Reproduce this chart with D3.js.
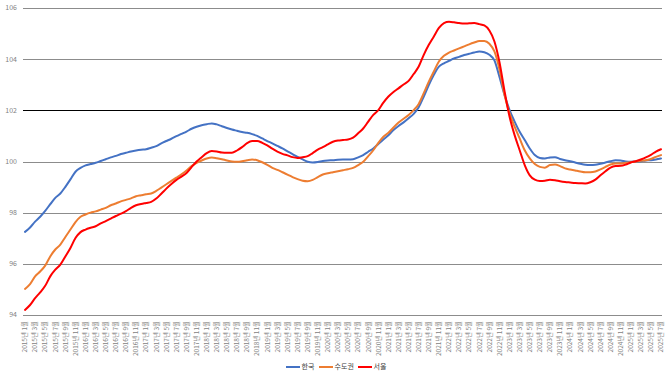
<!DOCTYPE html>
<html><head><meta charset="utf-8">
<script src="https://cdn.jsdelivr.net/npm/d3@7"></script>
<style>
html,body{margin:0;padding:0;background:#fff;}
text{font-family:"Noto Sans CJK KR","Noto Sans",sans-serif;}
</style></head>
<body><svg id="c" width="670" height="377"></svg>
<script>
const seriesNames = ["한국","수도권","서울"];
const seriesColors = ["#4472C4","#ED7D31","#FF0000"];
const yTicks = [94,96,98,100,102,104,106];

const korea = [97.25,97.42,97.65,97.84,98.07,98.33,98.58,98.75,99.01,99.30,99.60,99.75,99.85,99.90,99.95,100.02,100.09,100.16,100.22,100.29,100.34,100.39,100.43,100.46,100.48,100.54,100.60,100.71,100.80,100.89,100.99,101.08,101.17,101.28,101.36,101.42,101.46,101.49,101.45,101.38,101.31,101.25,101.20,101.15,101.12,101.07,101.00,100.90,100.80,100.71,100.61,100.51,100.40,100.29,100.18,100.08,99.99,99.96,99.98,100.02,100.04,100.05,100.07,100.08,100.08,100.09,100.16,100.25,100.38,100.51,100.68,100.86,101.03,101.23,101.39,101.53,101.69,101.86,102.12,102.54,102.99,103.39,103.71,103.84,103.93,104.03,104.09,104.16,104.21,104.26,104.30,104.27,104.17,103.95,103.30,102.60,102.01,101.56,101.16,100.84,100.51,100.25,100.14,100.12,100.16,100.17,100.10,100.05,100.01,99.96,99.91,99.87,99.86,99.87,99.91,99.96,100.01,100.05,100.04,100.00,99.99,100.00,100.01,100.04,100.05,100.08,100.12];
const capital = [95.02,95.21,95.51,95.70,95.93,96.29,96.56,96.75,97.05,97.34,97.63,97.84,97.93,98.00,98.05,98.12,98.19,98.29,98.36,98.44,98.50,98.56,98.64,98.68,98.72,98.75,98.85,98.98,99.11,99.24,99.37,99.50,99.65,99.82,99.95,100.04,100.12,100.16,100.13,100.09,100.04,100.00,99.99,100.01,100.05,100.08,100.05,99.97,99.87,99.75,99.67,99.58,99.49,99.39,99.31,99.25,99.23,99.28,99.39,99.49,99.54,99.58,99.62,99.66,99.70,99.75,99.86,99.99,100.21,100.44,100.73,100.97,101.12,101.33,101.52,101.67,101.82,102.01,102.25,102.67,103.12,103.52,103.91,104.13,104.26,104.34,104.42,104.50,104.58,104.65,104.71,104.71,104.60,104.30,103.60,102.60,101.88,101.36,100.90,100.44,100.12,99.90,99.79,99.76,99.86,99.88,99.82,99.73,99.69,99.65,99.61,99.58,99.58,99.61,99.69,99.79,99.88,99.92,99.92,99.95,99.97,100.00,100.03,100.05,100.10,100.18,100.25];
const seoul = [94.20,94.39,94.66,94.88,95.14,95.51,95.77,95.97,96.29,96.62,97.01,97.24,97.34,97.41,97.47,97.58,97.67,97.77,97.87,97.96,98.06,98.19,98.29,98.34,98.38,98.42,98.55,98.74,98.94,99.12,99.28,99.41,99.55,99.78,100.00,100.17,100.33,100.41,100.39,100.35,100.34,100.34,100.43,100.56,100.72,100.80,100.80,100.73,100.63,100.50,100.39,100.30,100.24,100.17,100.14,100.17,100.21,100.33,100.46,100.56,100.67,100.77,100.82,100.84,100.86,100.93,101.10,101.29,101.56,101.82,102.01,102.30,102.54,102.72,102.86,103.01,103.15,103.42,103.71,104.17,104.56,104.89,105.22,105.41,105.46,105.44,105.41,105.39,105.40,105.41,105.37,105.32,105.12,104.69,103.88,102.75,101.75,101.03,100.44,99.86,99.46,99.29,99.24,99.25,99.29,99.27,99.23,99.20,99.18,99.16,99.15,99.14,99.19,99.29,99.46,99.62,99.76,99.82,99.83,99.88,99.96,100.01,100.08,100.16,100.26,100.39,100.48];

// monthly categories 2015-01 .. 2025-07
const categories = [];
for (let y = 2015; y <= 2025; y++) for (let m = 1; m <= 12; m++) {
  if (y === 2025 && m > 7) break;
  categories.push(y + "년 " + m + "월");
}
const tickLabels = categories.filter((d, i) => i % 2 === 0);

const svg = d3.select("#c");
const x = d3.scalePoint().domain(categories).range([25, 661]);
const y = d3.scaleLinear().domain([94, 106]).range([315, 8]);

// gridlines
svg.append("g").selectAll("line").data(yTicks).join("line")
  .attr("x1", 23).attr("x2", 662)
  .attr("y1", d => Math.round(y(d)) + 0.5).attr("y2", d => Math.round(y(d)) + 0.5)
  .attr("stroke", d => d === 102 ? "#000" : "#8c8c8c").attr("stroke-width", 1);

// y labels
svg.append("g").selectAll("text").data(yTicks).join("text")
  .attr("x", 17).attr("y", d => y(d)).attr("dy", "0.35em")
  .attr("text-anchor", "end").attr("font-size", 7).attr("fill", "#7f7f7f")
  .text(d => d);

// x labels
svg.append("g").selectAll("text").data(tickLabels).join("text")
  .attr("transform", d => `translate(${x(d) + 2.3},321) rotate(-90)`)
  .attr("text-anchor", "end").attr("font-size", 6.5).attr("fill", "#7f7f7f")
  .text(d => d);

const line = d3.line().x((d, i) => x(categories[i])).y(d => y(d)).curve(d3.curveMonotoneX);
[korea, capital, seoul].forEach((s, k) => {
  svg.append("path").datum(s).attr("d", line)
    .attr("fill", "none").attr("stroke", seriesColors[k]).attr("stroke-width", 2)
    .attr("stroke-linejoin", "round").attr("stroke-linecap", "round");
});

// legend
const legendPos = [286, 319, 358];
const lg = svg.append("g");
seriesNames.forEach((n, k) => {
  lg.append("line").attr("x1", legendPos[k]).attr("x2", legendPos[k] + 14)
    .attr("y1", 367).attr("y2", 367).attr("stroke", seriesColors[k]).attr("stroke-width", 2);
  lg.append("text").attr("x", legendPos[k] + 15.5).attr("y", 367).attr("dy", "0.35em")
    .attr("font-size", 7).attr("fill", "#404040").text(n);
});
</script></body></html>
